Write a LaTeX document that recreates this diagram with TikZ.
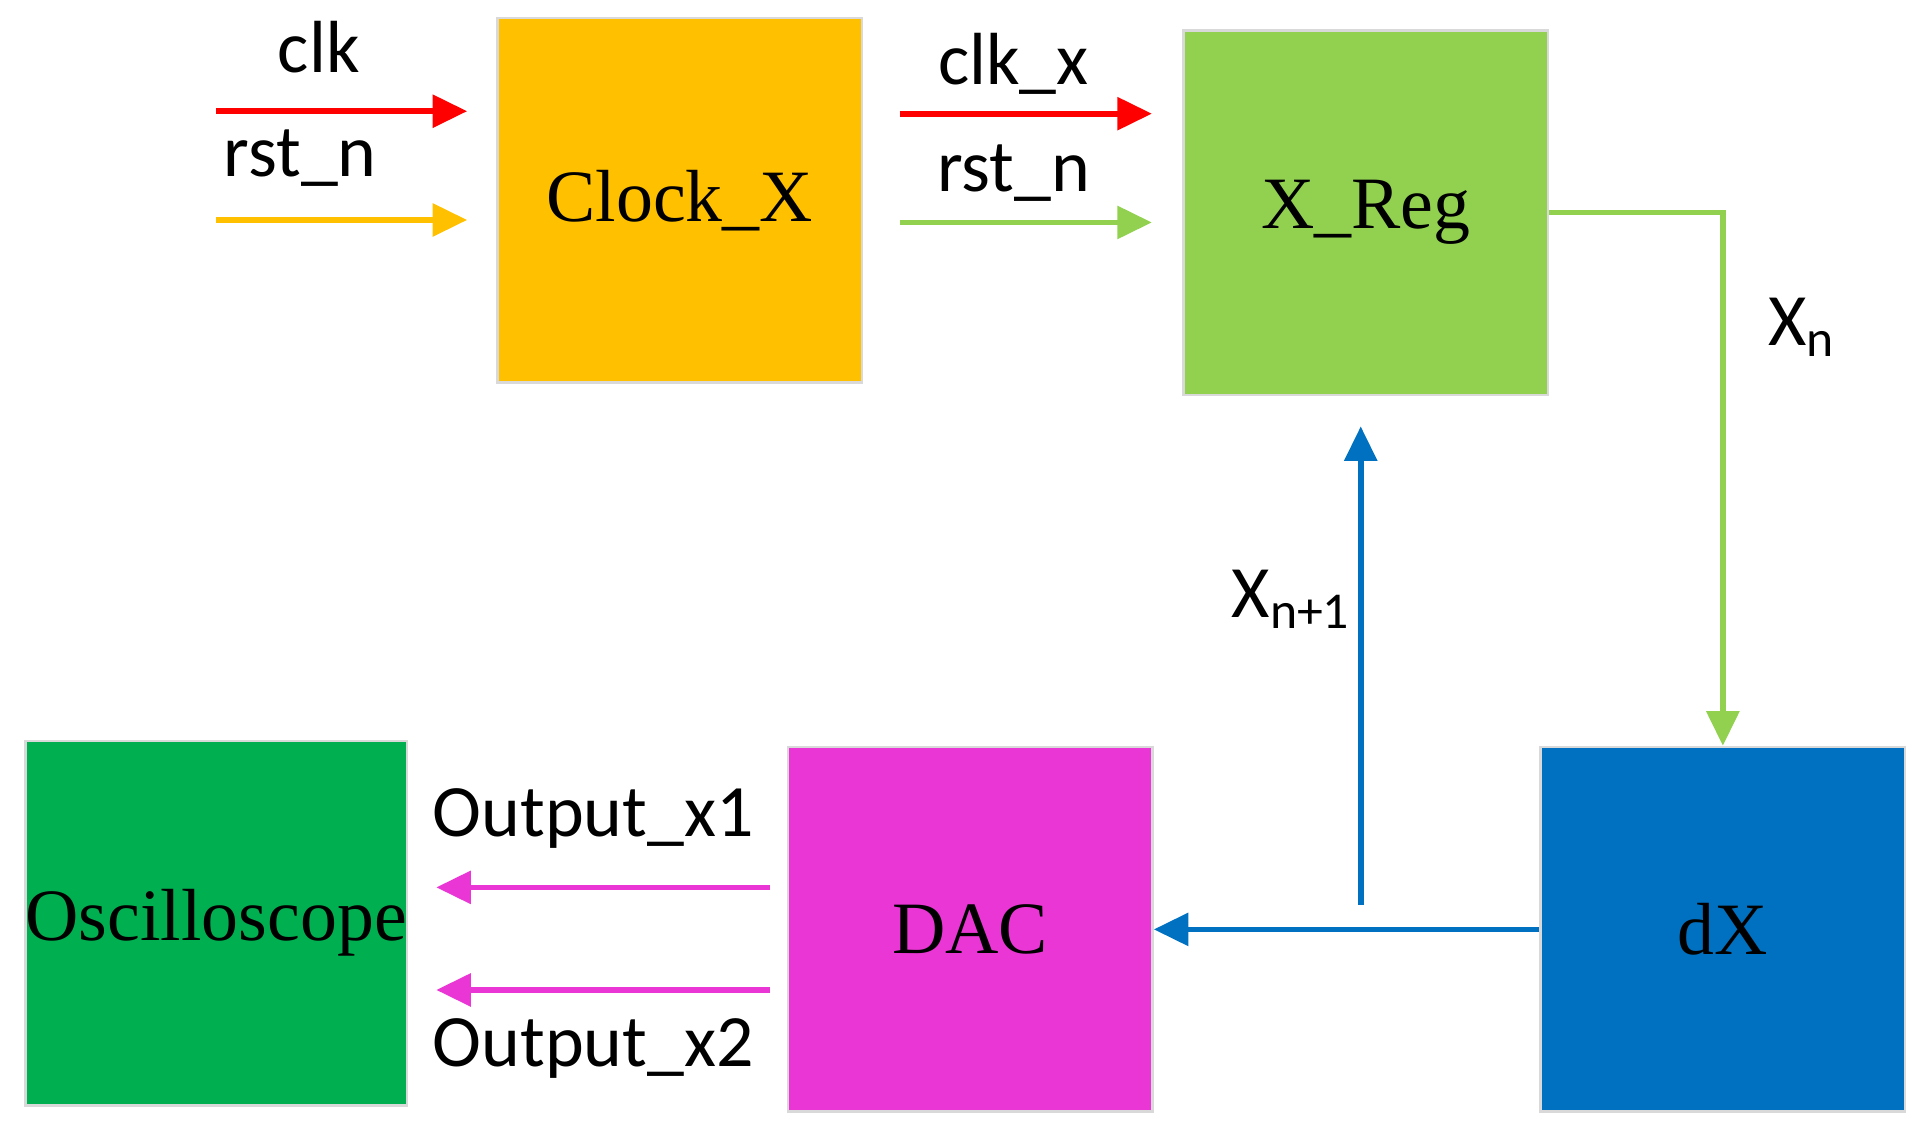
\documentclass[tikz,border=0pt]{standalone}
\usepackage{fontspec}
\setmainfont{Liberation Serif}
\newfontfamily\lblfont{Carlito}
\usetikzlibrary{positioning, arrows.meta}
\definecolor{clkorange}{HTML}{FFC000}
\definecolor{reggreen}{HTML}{92D050}
\definecolor{scopegreen}{HTML}{00B050}
\definecolor{dacmagenta}{HTML}{E936D4}
\definecolor{dxblue}{HTML}{0070C0}
\definecolor{sigred}{HTML}{FF0000}

\tikzset{
  block/.style={draw=black!15, line width=0.6pt, minimum width=2.95cm, minimum height=2.95cm, inner sep=0pt, font=\fontsize{17}{20}\selectfont},
  sig/.style={line width=1.3pt, -{Triangle[length=2.8mm,width=2.6mm]}},
  lbl/.style={font=\lblfont\fontsize{17}{20}\selectfont, inner sep=0pt}
}

\begin{document}
\begin{tikzpicture}
    \useasboundingbox (0,0) rectangle (15.6,9.24);
    % blocks
    \node[block, fill=clkorange] (clock) at (5.50,7.62) {Clock\_X};
    \node[block, fill=reggreen] (xreg) at (11.05,7.52) {X\_Reg};
    \node[block, fill=scopegreen] (scope) at (1.75,1.77) {Oscilloscope};
    \node[block, fill=dacmagenta] (dac) at (7.85,1.72) {DAC};
    \node[block, fill=dxblue] (dx) at (13.94,1.72) {dX};

    % free ends
    \coordinate (clkin) at (1.75,8.34);
    \coordinate (clkend) at (3.78,8.34);
    \coordinate (rstin) at (1.75,7.46);
    \coordinate (rstend) at (3.78,7.46);
    \coordinate (clkxs) at (7.28,8.32);
    \coordinate (clkxe) at (9.32,8.32);
    \coordinate (rstxs) at (7.28,7.44);
    \coordinate (rstxe) at (9.32,7.44);
    \coordinate (xnup) at (11.01,1.92);
    \coordinate (xntop) at (11.01,5.79);
    \coordinate (o1s) at (6.23,2.06);
    \coordinate (o1e) at (3.53,2.06);
    \coordinate (o2s) at (6.23,1.23);
    \coordinate (o2e) at (3.53,1.23);

    % inputs of Clock_X
    \draw[sig, sigred] (clkin) -- (clkend);
    \draw[sig, clkorange] (rstin) -- (rstend);
    \node[lbl] (clklbl) at (2.58,8.86) {clk};
    \node[lbl] (rstlbl) at (2.43,7.96) {rst\_n};

    % Clock_X to X_Reg
    \draw[sig, sigred] (clkxs) -- (clkxe);
    \draw[sig, reggreen] (rstxs) -- (rstxe);
    \node[lbl] (clkxlbl) at (8.20,8.72) {clk\_x};
    \node[lbl] (rstxlbl) at (8.20,7.84) {rst\_n};

    % feedback loop
    \draw[sig, reggreen] (xreg.east) -| (dx.north);
    \node[lbl] (xnlbl) at (14.58,6.59) {X\textsubscript{n}};
    \draw[sig, dxblue] (dx.west) -- (dac.east);
    \draw[sig, dxblue] (xnup) -- (xntop);
    \node[lbl] (xn1lbl) at (10.45,4.39) {X\textsubscript{n+1}};

    % outputs
    \draw[sig, dacmagenta] (o1s) -- (o1e);
    \draw[sig, dacmagenta] (o2s) -- (o2e);
    \node[lbl] (o1lbl) at (4.80,2.62) {Output\_x1};
    \node[lbl] (o2lbl) at (4.80,0.76) {Output\_x2};
\end{tikzpicture}
\end{document}
